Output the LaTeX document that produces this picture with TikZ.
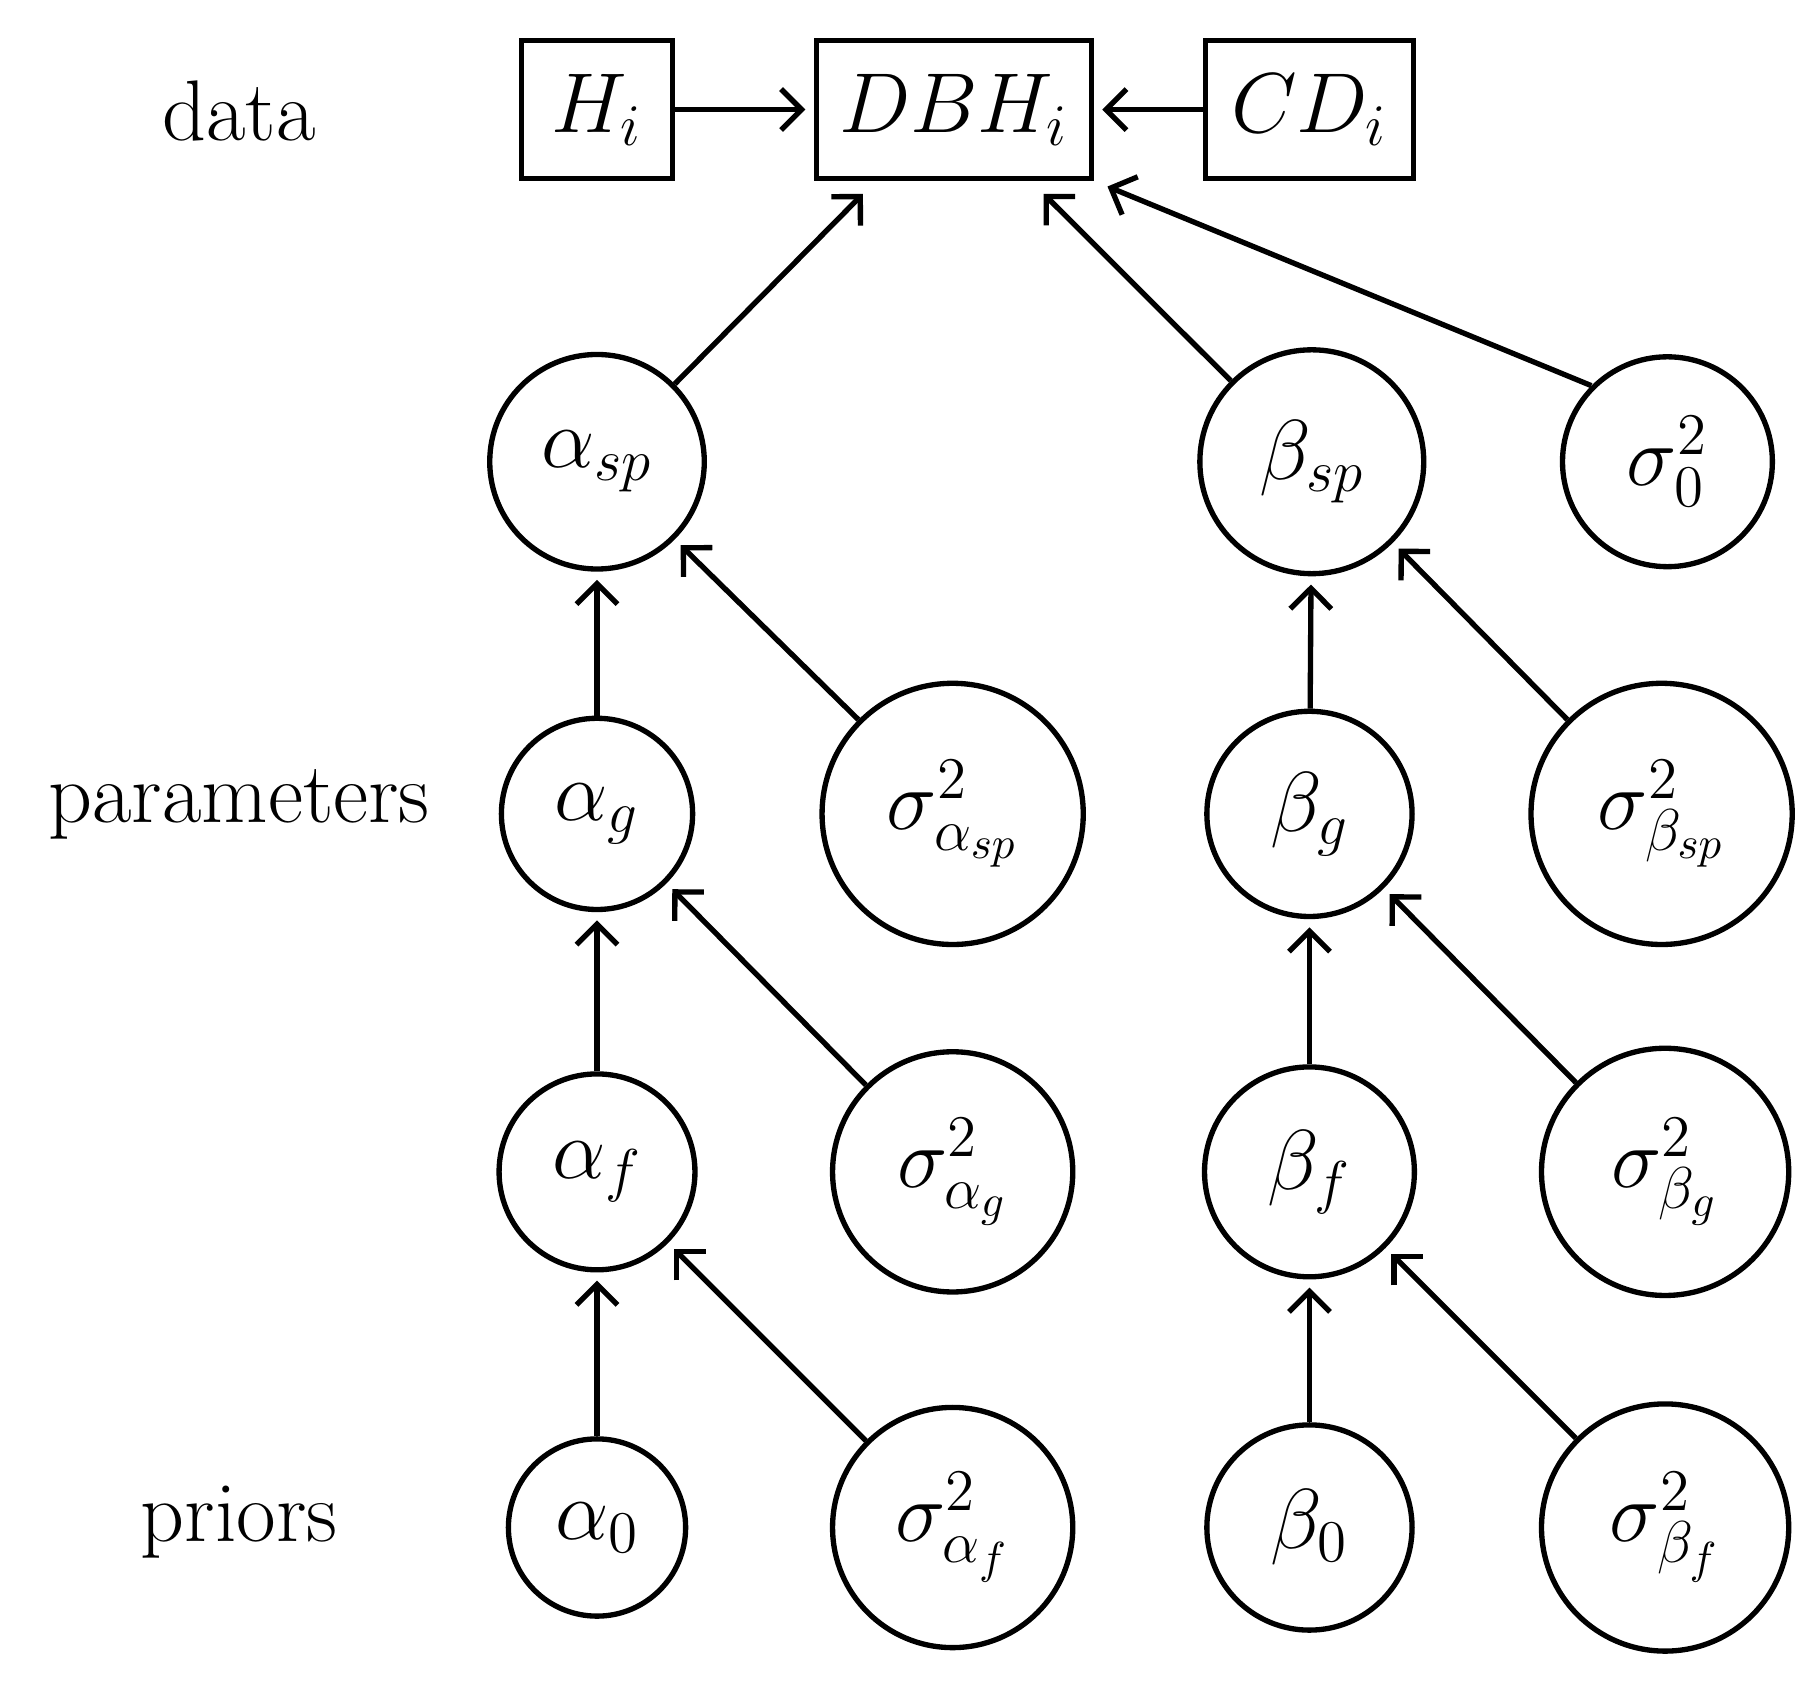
\documentclass[tikz,border=0pt]{standalone}
\usetikzlibrary{arrows.meta}
\begin{document}
\begin{tikzpicture}[x=1cm,y=1cm,
  every node/.style={font=\fontsize{21}{25}\selectfont},
  cir/.style={draw,circle,line width=1.3pt,inner sep=0pt},
  box/.style={draw,rectangle,line width=1.3pt,minimum height=1.18cm},
  lab/.style={},
  ar/.style={line width=1.3pt,-{Straight Barb[length=5pt,width=10pt,line width=1.3pt]},shorten >=2pt}]
\useasboundingbox (0,0) rectangle (15.6,-14.44);
\node[lab] (ldata) at (2.05,-0.95) {data};
\node[lab] (lpar) at (2.05,-6.9) {parameters};
\node[lab] (lpri) at (2.05,-13.05) {priors};
\node[box,minimum width=1.30cm] (H) at (5.12,-0.94) {$H_i$};
\node[box,minimum width=2.36cm] (D) at (8.18,-0.94) {$DBH_i$};
\node[box,minimum width=1.78cm] (C) at (11.23,-0.94) {$CD_i$};
\node[cir,minimum size=1.84cm] (asp) at (5.12,-3.96) {$\alpha_{sp}$};
\node[cir,minimum size=1.92cm] (bsp) at (11.25,-3.96) {$\beta_{sp}$};
\node[cir,minimum size=1.80cm] (s0) at (14.30,-3.96) {$\sigma^2_0$};
\node[cir,minimum size=1.64cm] (ag) at (5.12,-6.98) {$\alpha_g$};
\node[cir,minimum size=2.24cm] (sasp) at (8.17,-6.98) {$\sigma^2_{\alpha_{sp}}$};
\node[cir,minimum size=1.76cm] (bg) at (11.23,-6.98) {$\beta_g$};
\node[cir,minimum size=2.24cm] (sbsp) at (14.25,-6.98) {$\sigma^2_{\beta_{sp}}$};
\node[cir,minimum size=1.68cm] (af) at (5.12,-10.05) {$\alpha_f$};
\node[cir,minimum size=2.06cm] (sag) at (8.17,-10.05) {$\sigma^2_{\alpha_g}$};
\node[cir,minimum size=1.80cm] (bf) at (11.23,-10.05) {$\beta_f$};
\node[cir,minimum size=2.12cm] (sbg) at (14.28,-10.05) {$\sigma^2_{\beta_g}$};
\node[cir,minimum size=1.52cm] (a0) at (5.12,-13.10) {$\alpha_0$};
\node[cir,minimum size=2.06cm] (saf) at (8.17,-13.10) {$\sigma^2_{\alpha_f}$};
\node[cir,minimum size=1.76cm] (b0) at (11.23,-13.10) {$\beta_0$};
\node[cir,minimum size=2.12cm] (sbf) at (14.28,-13.10) {$\sigma^2_{\beta_f}$};
\draw[ar] (H) -- (D);
\draw[ar] (C) -- (D);
\draw[ar] (asp.45) -- ([xshift=-0.73cm,yshift=-0.06cm]D.south);
\draw[ar] (bsp.135) -- ([xshift=0.72cm,yshift=-0.06cm]D.south);
\draw[ar] (s0.135) -- ([xshift=0.05cm,yshift=-0.02cm]D.south east);
\draw[ar] (ag) -- (asp);
\draw[ar] (sasp.135) -- (asp.315);
\draw[ar] (af) -- (ag);
\draw[ar] (sag.135) -- (ag.315);
\draw[ar] (a0) -- (af);
\draw[ar] (saf.135) -- (af.315);
\draw[ar] (bg) -- (bsp);
\draw[ar] (sbsp.135) -- (bsp.315);
\draw[ar] (bf) -- (bg);
\draw[ar] (sbg.135) -- (bg.315);
\draw[ar] (b0) -- (bf);
\draw[ar] (sbf.135) -- (bf.315);
\end{tikzpicture}
\end{document}
